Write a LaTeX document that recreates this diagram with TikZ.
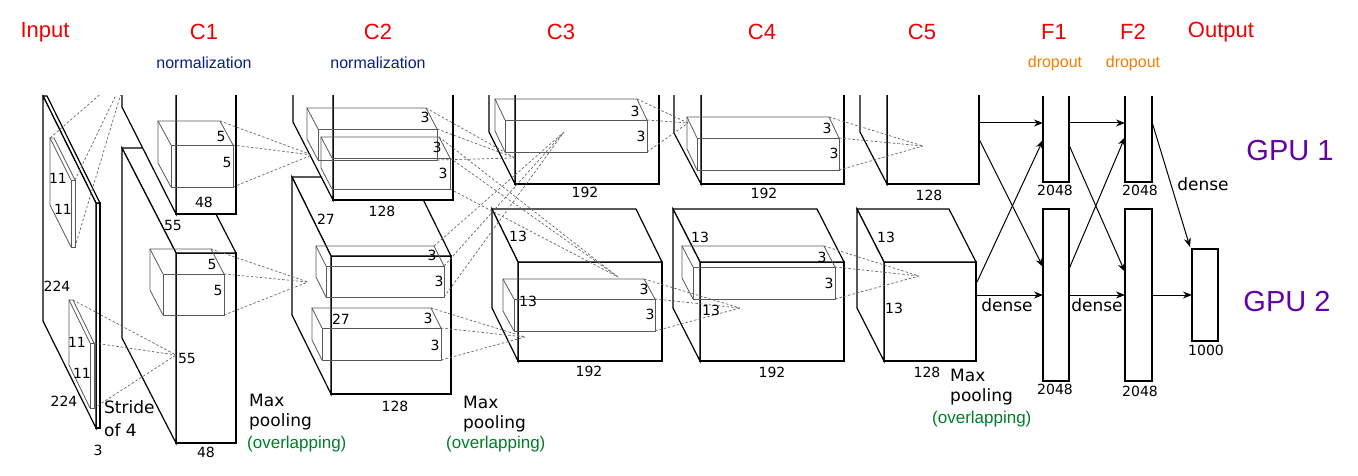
\documentclass[tikz,border=0pt]{standalone}
\usepackage{fontspec}
\setmainfont{DejaVu Sans}
\newfontfamily\hv{Liberation Sans}
\definecolor{ttl}{RGB}{240,0,0}
\definecolor{nrm}{RGB}{10,30,130}
\definecolor{drp}{RGB}{245,125,0}
\definecolor{gpu}{RGB}{100,0,170}
\definecolor{ovl}{RGB}{0,125,40}
\newcommand{\blkcube}[6]{%
 \filldraw[blk] (#1,#2) rectangle ++(#3,#4);
 \filldraw[blk] (#1,#2) -- ++(-#5,-#6) -- ++(#3,0) -- ++(#5,#6) -- cycle;
 \filldraw[blk] (#1,#2) -- ++(-#5,-#6) -- ++(0,#4) -- ++(#5,#6) -- cycle;}
\newcommand{\krn}[6]{%
 \draw[krn] (#1,#2) rectangle ++(#3,#4);
 \draw[krn] (#1,#2) -- ++(-#5,-#6) -- ++(#3,0) -- ++(#5,#6);
 \draw[krn] (#1,#2) ++(-#5,-#6) -- ++(0,#4) -- ++(#5,#6);}
\newcommand{\kdash}[8]{%
 \draw[dsh] (#1+#3-#5,#2-#6) -- (#7,#8);
 \draw[dsh] (#1+#3,#2) -- (#7,#8);
 \draw[dsh] (#1+#3,#2+#4) -- (#7,#8);}
\tikzset{
 blk/.style={draw=black,fill=white,line width=1.2pt},
 krn/.style={draw=black!65,line width=0.8pt},
 dsh/.style={draw=black!60,line width=0.7pt,dash pattern=on 2.5pt off 2pt},
 num/.style={font=\fontsize{14}{14}\selectfont,inner sep=0pt},
 big/.style={font=\fontsize{17}{17}\selectfont,inner sep=0pt},
 ttl/.style={font=\hv\fontsize{22}{22}\selectfont,text=ttl,inner sep=0pt},
 sub/.style={font=\hv\fontsize{16}{16}\selectfont,inner sep=0pt},
 ovl/.style={font=\hv\fontsize{17}{17}\selectfont,text=ovl,inner sep=0pt,anchor=west},
 fc/.style={draw=black,fill=white,line width=1.2pt},
 arr/.style={-{Stealth[length=9pt,width=7pt]},line width=1pt},
}
\usetikzlibrary{arrows.meta}
\begin{document}
\begin{tikzpicture}[x=1pt,y=-1pt]
\useasboundingbox (0,0) rectangle (1358,476);
\begin{scope}
\clip (0,96) rectangle (1358,476);
\blkcube{96}{203}{4}{225}{53}{107}
\blkcube{176}{253}{60}{190}{54}{105}
\blkcube{176}{24}{60}{190}{54}{107}
\blkcube{331}{256}{120}{138}{39}{79}
\blkcube{333}{10}{120}{190}{40}{78}
\blkcube{518}{262}{144}{99}{26}{53}
\blkcube{515}{-6}{144}{190}{26}{52}
\blkcube{700}{262}{144}{99}{27}{53}
\blkcube{701}{-6}{143}{190}{27}{51}
\blkcube{884}{262}{92}{99}{27}{53}
\blkcube{887}{-6}{92}{190}{27}{52}
\krn{71}{180}{4}{67}{21}{42}
\krn{90}{343}{4}{65}{21}{43}
\krn{171}{145}{62}{42}{13}{24}
\krn{163}{274}{61}{41}{13}{25}
\krn{318}{129}{119}{31}{11}{21}
\krn{332}{158}{118}{31}{11}{21}
\krn{326}{266}{118}{31}{10}{20}
\krn{322}{328}{119}{32}{10}{20}
\krn{505}{120}{142}{32}{10}{21}
\krn{514}{299}{141}{32}{11}{20}
\krn{697}{138}{142}{32}{10}{21}
\krn{693}{267}{142}{32}{11}{21}
\kdash{71}{180}{4}{67}{25}{42}{128}{70}
\kdash{90}{343}{4}{65}{21}{43}{176}{355}
\kdash{171}{145}{62}{42}{13}{24}{312}{155}
\kdash{163}{274}{61}{41}{13}{25}{308}{282}
\kdash{318}{129}{119}{31}{11}{21}{515}{158}
\kdash{332}{158}{118}{31}{11}{21}{618}{277}
\kdash{326}{266}{118}{31}{10}{20}{564}{132}
\kdash{322}{328}{119}{32}{10}{20}{525}{337}
\kdash{505}{120}{142}{32}{10}{21}{688}{123}
\kdash{514}{299}{141}{32}{11}{20}{740}{308}
\kdash{697}{138}{142}{32}{10}{21}{923}{146}
\kdash{693}{267}{142}{32}{11}{21}{919}{276}
\draw[fc] (1043,96) -- (1043,182) -- (1069,182) -- (1069,96);
\draw[fc] (1125,96) -- (1125,182) -- (1152,182) -- (1152,96);
\end{scope}
\draw[fc] (1043,209) rectangle (1069,381);
\draw[fc] (1125,209) rectangle (1152,381);
\draw[fc] (1192,249) rectangle (1218,341);
\draw[arr] (979,123) -- (1043,123);
\draw[arr] (979,139) -- (1043,267);
\draw[arr] (977,282) -- (1043,140);
\draw[arr] (977,295) -- (1043,295);
\draw[arr] (1069,123) -- (1125,123);
\draw[arr] (1069,145) -- (1125,272);
\draw[arr] (1069,269) -- (1125,137);
\draw[arr] (1069,295) -- (1125,295);
\draw[arr] (1152,122) -- (1190,247);
\draw[arr] (1152,295) -- (1192,295);
\node[ttl] (t0) at (45,32) {Input};
\node[ttl] (t1) at (204,32) {C1};
\node[ttl] (t2) at (378,32) {C2};
\node[ttl] (t3) at (561,32) {C3};
\node[ttl] (t4) at (762,32) {C4};
\node[ttl] (t5) at (922,32) {C5};
\node[ttl] (t6) at (1054,32) {F1};
\node[ttl] (t7) at (1133,32) {F2};
\node[ttl] (t8) at (1221,32) {Output};
\node[sub,text=nrm] (s1) at (204,63) {normalization};
\node[sub,text=nrm] (s2) at (378,63) {normalization};
\node[sub,text=drp] (s3) at (1055,63) {dropout};
\node[sub,text=drp] (s4) at (1133,63) {dropout};
\node[font=\hv\fontsize{29}{29}\selectfont,text=gpu,inner sep=0pt] (g1) at (1290,151) {GPU 1};
\node[font=\hv\fontsize{29}{29}\selectfont,text=gpu,inner sep=0pt] (g2) at (1287,302) {GPU 2};
\node[num] (a1) at (58,178) {11};
\node[num] (a2) at (63,209) {11};
\node[num] (a3) at (77,342) {11};
\node[num] (a4) at (82,373) {11};
\node[num] (a5) at (57,286) {224};
\node[num] (a6) at (64,401) {224};
\node[num] (a7) at (98,450) {3};
\node[big,anchor=west] (a8) at (104,407) {Stride};
\node[big,anchor=west] (a9) at (104,430) {of 4};
\node[num] (b1) at (221,136) {5};
\node[num] (b2) at (227,162) {5};
\node[num] (b3) at (212,264) {5};
\node[num] (b4) at (218,290) {5};
\node[num] (b5) at (204,202) {48};
\node[num] (b6) at (206,452) {48};
\node[num] (b7) at (173,225) {55};
\node[num] (b8) at (187,358) {55};
\node[num] (c1) at (425,117) {3};
\node[num] (c2) at (437,147) {3};
\node[num] (c3) at (443,173) {3};
\node[num] (c4) at (432,255) {3};
\node[num] (c5) at (439,281) {3};
\node[num] (c6) at (428,318) {3};
\node[num] (c7) at (435,345) {3};
\node[num] (c8) at (326,219) {27};
\node[num] (c9) at (341,319) {27};
\node[num] (c10) at (382,211) {128};
\node[num] (c11) at (395,406) {128};
\node[num] (d1) at (635,111) {3};
\node[num] (d2) at (641,136) {3};
\node[num] (d3) at (644,289) {3};
\node[num] (d4) at (650,314) {3};
\node[num] (d5) at (518,236) {13};
\node[num] (d6) at (528,301) {13};
\node[num] (d7) at (585,192) {192};
\node[num] (d8) at (589,371) {192};
\node[num] (e1) at (827,128) {3};
\node[num] (e2) at (834,153) {3};
\node[num] (e3) at (822,257) {3};
\node[num] (e4) at (829,283) {3};
\node[num] (e5) at (700,237) {13};
\node[num] (e6) at (711,310) {13};
\node[num] (e7) at (764,193) {192};
\node[num] (e8) at (772,372) {192};
\node[num] (f1) at (929,195) {128};
\node[num] (f2) at (927,372) {128};
\node[num] (f3) at (886,237) {13};
\node[num] (f4) at (894,308) {13};
\node[num] (h1) at (1055,190) {2048};
\node[num] (h2) at (1140,190) {2048};
\node[num] (h3) at (1055,389) {2048};
\node[num] (h4) at (1140,391) {2048};
\node[num] (h5) at (1206,350) {1000};
\node[big] (n1) at (1007,305) {dense};
\node[big] (n2) at (1097,305) {dense};
\node[big] (n3) at (1203,184) {dense};
\node[big,anchor=west] (m1) at (249,400) {Max};
\node[big,anchor=west] (m2) at (249,422) {pooling};
\node[ovl] (m3) at (247,444) {(overlapping)};
\node[big,anchor=west] (m4) at (463,402) {Max};
\node[big,anchor=west] (m5) at (463,424) {pooling};
\node[ovl] (m6) at (446,444) {(overlapping)};
\node[big,anchor=west] (m7) at (950,375) {Max};
\node[big,anchor=west] (m8) at (950,397) {pooling};
\node[ovl] (m9) at (932,419) {(overlapping)};
\end{tikzpicture}
\end{document}
